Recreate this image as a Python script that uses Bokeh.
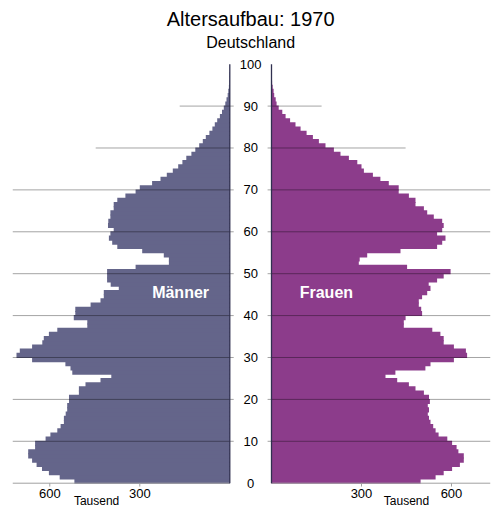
from bokeh.plotting import figure
from bokeh.models import Range1d, Label, LabelSet, ColumnDataSource
from bokeh.embed import file_html
from bokeh.resources import INLINE
from bokeh.core.properties import value

# ---------------- data (thousands of persons, per single year of age) -------------
ages = list(range(0, 100))
maenner = [
    518, 567, 603, 626, 644, 659, 672, 672, 649, 649,   # 0-9
    614, 598, 575, 564, 553, 553, 547, 542, 542, 536,   # 10-19
    536, 503, 503, 481, 431, 395, 525, 531, 548, 659,   # 20-29
    711, 700, 659, 625, 620, 603, 575, 475, 475, 520,   # 30-39
    515, 515, 464, 431, 420, 420, 370, 397, 409, 409,   # 40-49
    409, 314, 203, 203, 220, 292, 375, 392, 403, 398,   # 50-59
    387, 406, 405, 398, 398, 387, 387, 375, 348, 314,   # 60-69
    300, 259, 231, 210, 190, 172, 158, 145, 128, 115,   # 70-79
    102, 90, 80, 68, 58, 50, 42, 33, 26, 20,            # 80-89
    15, 11, 7, 5, 3, 2, 1, 1, 0, 0,                     # 90-99
]
frauen = [
    497, 547, 574, 602, 628, 641, 641, 623, 617, 602,   # 0-9
    586, 557, 547, 539, 530, 525, 521, 525, 521, 528,   # 10-19
    525, 508, 480, 458, 419, 380, 413, 513, 530, 608,   # 20-29
    652, 648, 608, 574, 574, 563, 536, 441, 441, 447,   # 30-39
    502, 499, 491, 491, 502, 519, 530, 524, 552, 574,   # 40-49
    597, 452, 291, 294, 319, 430, 552, 569, 580, 552,   # 50-59
    569, 574, 569, 541, 519, 508, 480, 480, 458, 424,   # 60-69
    424, 391, 363, 338, 308, 300, 286, 258, 230, 208,   # 70-79
    180, 158, 138, 117, 97, 80, 62, 47, 36, 24,         # 80-89
    17, 14, 9, 7, 4, 2, 1, 1, 0, 0,                     # 90-99
]
age_ticks = [0, 10, 20, 30, 40, 50, 60, 70, 80, 90, 100]
x_tick_values = [300, 600]
x_unit_label = "Tausend"
title_text = "Altersaufbau: 1970"
subtitle_text = "Deutschland"
side_labels = ["Männer", "Frauen"]

# ---------------- styling / layout constants -------------------------------------
GAP = 69.5          # half-width of the central label column (value units)
EXT = 13            # tick stub beyond each axis line
X0, X1 = -793.8, 799.5
Y0, Y1 = -6.04, 115.2
grid_reach = {90: 167, 80: 447}   # shorter gridlines near the top
M_COL = "#64658A"
F_COL = "#8C3C8B"
AXIS_COL = "#303050"
GRID_COL = "#a0a0a0"
FONT = "Liberation Sans"
UNIT_POS = (444, 450)
UNIT_Y = -4.25
NUM_Y = -2.5
TITLE_Y = 110.9
SUBTITLE_Y = 105.25

n = len(ages)
src = ColumnDataSource(dict(
    y=[a + 0.5 for a in ages],
    m_left=[-GAP - v for v in maenner],
    m_right=[-GAP] * n,
    f_left=[GAP] * n,
    f_right=[GAP + v for v in frauen],
))

p = figure(width=492, height=508, output_backend="svg", toolbar_location=None,
           x_range=Range1d(X0, X1), y_range=Range1d(Y0, Y1),
           x_axis_location=None, y_axis_location=None, title_location=None,
           min_border_left=12, min_border_right=2,
           min_border_top=0, min_border_bottom=0)
p.outline_line_color = None
p.xgrid.visible = False
p.ygrid.visible = False

# titles
p.add_layout(Label(x=0, y=TITLE_Y, text=title_text, text_align="center",
                   text_baseline="alphabetic", text_font=FONT, text_font_size="20px",
                   text_color="black"))
p.add_layout(Label(x=0, y=SUBTITLE_Y, text=subtitle_text, text_align="center",
                   text_baseline="alphabetic", text_font=FONT, text_font_size="16px",
                   text_color="black"))

# bars (slightly overlapping so that no seams show between ages)
p.hbar(y="y", left="m_left", right="m_right", height=1.24, source=src,
       fill_color=M_COL, line_color=None)
p.hbar(y="y", left="f_left", right="f_right", height=1.24, source=src,
       fill_color=F_COL, line_color=None)

# gridlines (drawn over bars, semi-transparent black)
gx0, gx1, gy = [], [], []
for t in age_ticks[1:-1]:
    gx0 += [-GAP - grid_reach.get(t, -X0 - GAP), GAP - EXT]
    gx1 += [-GAP + EXT, GAP + grid_reach.get(t, X1 - GAP)]
    gy += [t, t]
p.segment(x0=gx0, y0=gy, x1=gx1, y1=gy, line_color="black", line_alpha=0.36,
          line_width=1)
# baseline at age 0
p.segment(x0=[X0, GAP], y0=[0, 0], x1=[-GAP, X1], y1=[0, 0],
          line_color=GRID_COL, line_width=1)

# x tick marks and labels
tick_pos = [-GAP - v for v in x_tick_values] + [GAP + v for v in x_tick_values]
tick_txt = [str(v) for v in x_tick_values] * 2
p.segment(x0=tick_pos, y0=[0] * 4, x1=tick_pos, y1=[-0.8] * 4,
          line_color=GRID_COL, line_width=1)
num_src = ColumnDataSource(dict(x=tick_pos, y=[NUM_Y] * 4, t=tick_txt))
p.add_layout(LabelSet(x="x", y="y", text="t", source=num_src, text_align="center",
                      text_baseline="middle", text_font=value(FONT),
                      text_font_size=value("13px"), text_color=value("black")))
unit_src = ColumnDataSource(dict(x=[-GAP - UNIT_POS[0], GAP + UNIT_POS[1]],
                                 y=[UNIT_Y, UNIT_Y], t=[x_unit_label] * 2))
p.add_layout(LabelSet(x="x", y="y", text="t", source=unit_src, text_align="center",
                      text_baseline="middle", text_font=value(FONT),
                      text_font_size=value("12px"), text_color=value("black")))

# the two vertical axis lines
p.segment(x0=[-GAP, GAP], y0=[age_ticks[0]] * 2, x1=[-GAP, GAP],
          y1=[age_ticks[-1]] * 2, line_color=AXIS_COL, line_width=1.3)

# central age labels
lab_src = ColumnDataSource(dict(x=[0] * len(age_ticks), y=age_ticks,
                                t=[str(t) for t in age_ticks]))
p.add_layout(LabelSet(x="x", y="y", text="t", source=lab_src, text_align="center",
                      text_baseline="middle", text_font=value(FONT),
                      text_font_size=value("13px"), text_color=value("black")))

# Männer / Frauen
p.add_layout(Label(x=-GAP - 164, y=45.4, text=side_labels[0], text_align="center",
                   text_baseline="middle", text_font=FONT, text_font_size="16px",
                   text_font_style="bold", text_color="white"))
p.add_layout(Label(x=GAP + 183, y=45.4, text=side_labels[1], text_align="center",
                   text_baseline="middle", text_font=FONT, text_font_size="16px",
                   text_font_style="bold", text_color="white"))

open("out.html", "w").write(file_html(p, INLINE))
